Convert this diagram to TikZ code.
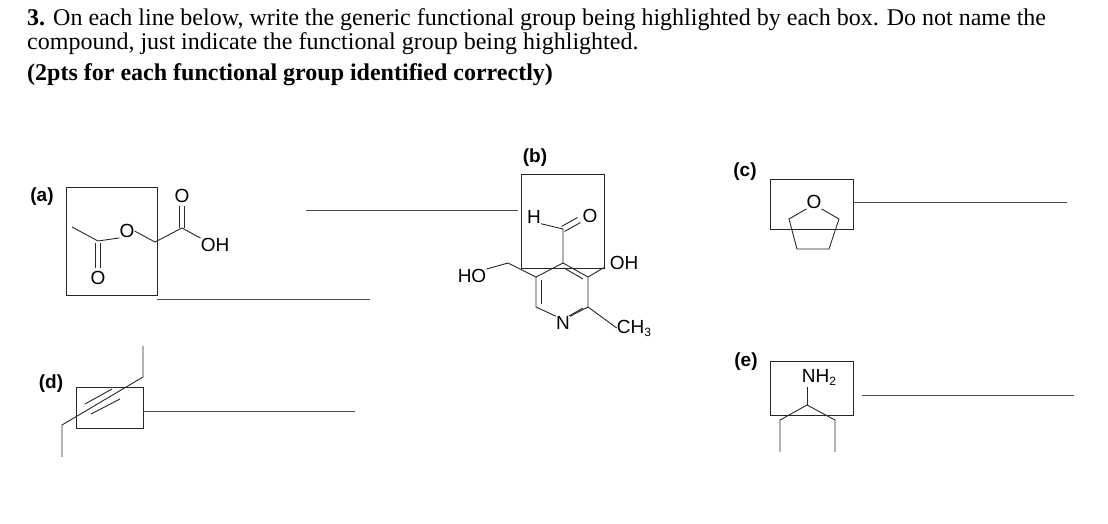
\documentclass[tikz,border=0pt]{standalone}
\usepackage{fontspec}
\setmainfont{Liberation Serif}
\newfontfamily\lsans{Liberation Sans}
\newcommand{\sbs}[1]{\raisebox{-0.3ex}{\fontsize{12}{12}\selectfont #1}}
\begin{document}
\begin{tikzpicture}[x=1pt,y=-1pt,
  bond/.style={line width=0.9pt,black!85},
  boxl/.style={line width=0.9pt,black!85},
  ansline/.style={line width=1pt,black!70},
  atom/.style={font=\lsans\fontsize{19}{19}\selectfont,inner sep=0pt},
  lab/.style={font=\lsans\bfseries\fontsize{19}{19}\selectfont,inner sep=0pt},
  hdr/.style={font=\fontsize{24}{24}\selectfont,anchor=base west,inner sep=0pt}]
\useasboundingbox (0,0) rectangle (1108,523);
% header
\node[hdr] (h1) at (27,25) {\textbf{3.} On each line below, write the generic functional group being highlighted by each box. Do not name the};
\node[hdr] (h2) at (27,49) {compound, just indicate the functional group being highlighted.};
\node[hdr] (h3) at (27,80) {\textbf{(2pts for each functional group identified correctly)}};
% labels
\node[lab] (la) at (42,197) {(a)};
\node[lab] (lb) at (535,158) {(b)};
\node[lab] (lc) at (745,172) {(c)};
\node[lab] (ld) at (51,384) {(d)};
\node[lab] (le) at (746,362) {(e)};
% (a)
\draw[boxl] (66,187) rectangle (157,295);
\node[atom] (aO1) at (127,231) {O};
\node[atom] (aO2) at (98,278) {O};
\node[atom] (aO3) at (182,196) {O};
\node[atom] (aOH) at (215,245) {OH};
\coordinate (aMe) at (72,227);
\coordinate (aC1) at (98,241);
\coordinate (aCH) at (155,242);
\coordinate (aC2) at (182,228);
\draw[bond] (aMe) -- (aC1) -- (aO1.south west);
\draw[bond] (aO1.east) -- (aCH) -- (aC2) -- (aOH.north west);
\draw[bond] (95.5,243) -- (95.5,268) (100.5,243) -- (100.5,268);
\draw[bond] (179.5,228) -- (179.5,206) (184.5,228) -- (184.5,206);
\draw[ansline] (157,299) -- (370,299);
% (b)
\draw[ansline] (306,210) -- (518,210);
\draw[boxl] (521,174) rectangle (604,268);
\node[atom] (bH) at (534,217) {H};
\node[atom] (bO) at (590,216) {O};
\node[atom] (bOH) at (624,263) {OH};
\node[atom] (bHO) at (472,276) {HO};
\node[atom] (bN) at (563,323) {N};
\node[atom] (bCH3) at (634,328) {CH\sbs{3}};
\coordinate (bC) at (563,229);
\coordinate (r1) at (563,263);
\coordinate (r2) at (588,277);
\coordinate (r3) at (588,307);
\coordinate (r5) at (536,307);
\coordinate (r6) at (536,277);
\coordinate (bCH2) at (508,263);
\draw[bond] (bH.south east) -- (bC) -- (r1);
\draw[bond] (bC) ++(-1.5,-2.5) -- ++(16,-9);
\draw[bond] (bC) ++(1.5,2.5) -- ++(16,-9);
\draw[bond] (r1) -- (r2) -- (r3) -- (bN.north east);
\draw[bond] (bN.north west) -- (r5) -- (r6) -- (r1);
\draw[bond] (564,268) -- (583,279);
\draw[bond] (541,280) -- (541,304);
\draw[bond] (583,308) -- (569,316);
\draw[bond] (r2) -- (605,267);
\draw[bond] (r3) -- (bCH3.west);
\draw[bond] (r6) -- (bCH2) -- (bHO.north east);
% (c)
\draw[boxl] (770,179) rectangle (853,229);
\node[atom] (cO) at (814,202) {O};
\draw[bond] (cO.south west) -- (789,219) -- (797,249) -- (829,249) -- (839,219) -- (cO.south east);
\draw[ansline] (853,202) -- (1067,202);
% (d)
\draw[boxl] (76,387) rectangle (143,428);
\draw[bond] (62,457) -- (62,425) -- (143,377) -- (143,346);
\draw[bond] (85,404) -- (112,389);
\draw[bond] (91,414) -- (120,399);
\draw[ansline] (143,411) -- (355,411);
% (e)
\draw[boxl] (770,361) rectangle (853,415);
\node[atom] (eN) at (819,377) {NH\sbs{2}};
\coordinate (eC) at (807,405);
\draw[bond] (807,387) -- (eC);
\draw[bond] (eC) -- (780,420) -- (780,452);
\draw[bond] (eC) -- (835,420) -- (835,452);
\draw[ansline] (862,395) -- (1074,395);
\end{tikzpicture}
\end{document}
